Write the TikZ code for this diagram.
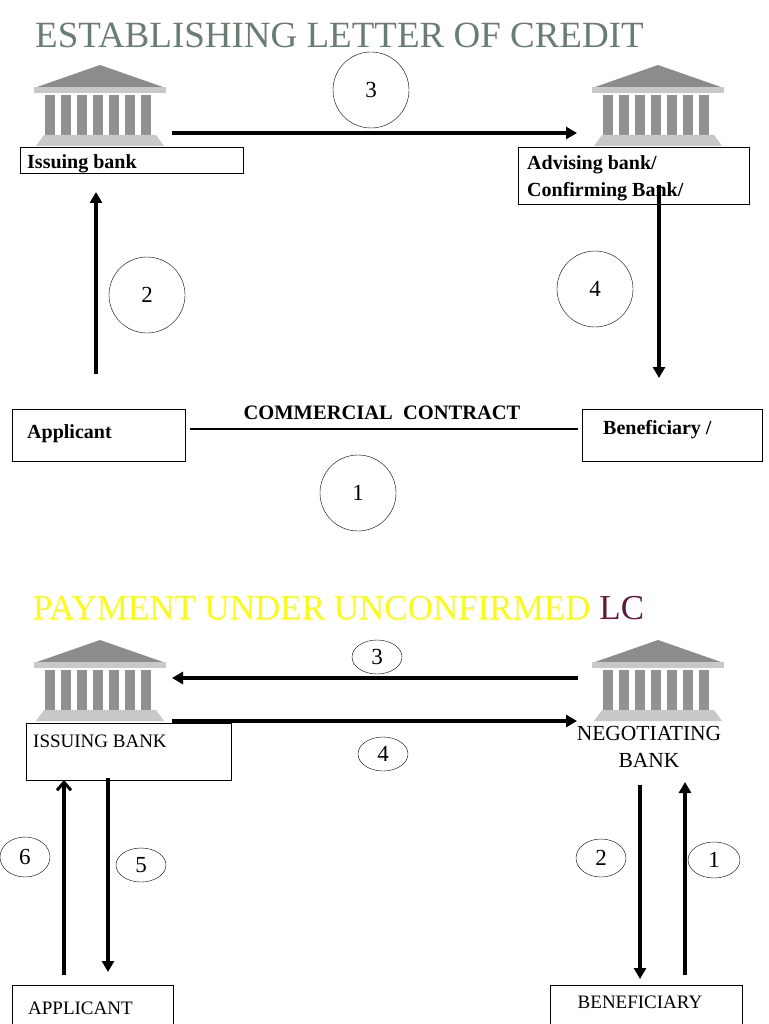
\documentclass[tikz,border=0pt]{standalone}
\usepackage{fontspec}
\setmainfont{Liberation Serif}
\usetikzlibrary{arrows.meta,shapes.geometric}
\definecolor{titlegray}{RGB}{105,125,115}
\definecolor{ttlyellow}{RGB}{250,250,20}
\definecolor{maroon}{RGB}{95,25,60}
\definecolor{roofgray}{RGB}{140,140,140}
\definecolor{light}{RGB}{200,200,200}
\definecolor{colgray}{RGB}{145,145,145}
\tikzset{
  arr/.style={line width=4pt,-{Triangle[length=11pt,width=12pt]}},
  oarr/.style={line width=4pt,-{Straight Barb[length=8pt,width=14pt,line width=3pt]}},
  box/.style={draw,line width=0.8pt},
  num/.style={draw,circle,minimum size=76pt,inner sep=0pt,font=\fontsize{23}{25}\selectfont},
  enum/.style={draw,ellipse,minimum width=50pt,minimum height=34pt,inner sep=0pt,font=\fontsize{23}{25}\selectfont},
  lbl/.style={font=\bfseries\fontsize{20}{23}\selectfont,anchor=west,inner sep=0pt},
  ulbl/.style={font=\fontsize{19}{22}\selectfont,inner sep=0pt},
  bank/.pic={
    \fill[roofgray] (-63,-2) -- (0,-24) -- (63,-2) -- cycle;
    \fill[light] (-66,-2) rectangle (66,4);
    \fill[white] (-62,4) rectangle (62,46);
    \foreach \i in {0,...,6}{\fill[colgray] ({-55+\i*16},6) rectangle ({-45+\i*16},46);}
    \fill[light] (-56,46) -- (56,46) -- (64,57) -- (-64,57) -- cycle;
  }
}
\begin{document}
\begin{tikzpicture}[x=1pt,y=-1pt]
\useasboundingbox (0,0) rectangle (768,1024);
\node[anchor=west,inner sep=0pt,text=titlegray,font=\fontsize{37}{40}\selectfont] (t1) at (35,35) {ESTABLISHING LETTER OF CREDIT};
\pic at (100,89) {bank};
\pic at (658,89) {bank};
\node[box,minimum width=223pt,minimum height=26pt,anchor=north west] (ib) at (20,147) {};
\node[lbl] (ibt) at (27,164) {Issuing bank};
\node[box,minimum width=231pt,minimum height=57pt,anchor=north west] (ab) at (518,147) {};
\node[lbl] (abt1) at (527,165) {Advising bank/};
\node[lbl] (abt2) at (527,192) {Confirming Bank/};
\coordinate (a3s) at (172,133); \coordinate (a3e) at (577,133);
\draw[arr] (a3s) -- (a3e);
\node[num] (c3) at (371,90) {3};
\coordinate (a2s) at (96,374); \coordinate (a2e) at (96,192);
\draw[arr] (a2s) -- (a2e);
\node[num] (c2) at (147,295) {2};
\coordinate (a4s) at (659,185); \coordinate (a4e) at (659,378);
\draw[arr] (a4s) -- (a4e);
\node[num] (c4) at (595,289) {4};
\node[box,minimum width=173pt,minimum height=52pt,anchor=north west] (ap) at (12,409) {};
\node[lbl] (apt) at (27,434) {Applicant};
\node[box,minimum width=180pt,minimum height=52pt,anchor=north west] (be) at (582,409) {};
\node[lbl] (bet) at (603,430) {Beneficiary /};
\coordinate (cl1) at (190,429); \coordinate (cl2) at (578,429);
\draw[line width=2pt] (cl1) -- (cl2);
\node[font=\bfseries\fontsize{20.5}{23}\selectfont] (cc) at (382,413) {COMMERCIAL\ \ CONTRACT};
\node[num] (c1) at (358,493) {1};
% second part
\node[anchor=west,inner sep=0pt,font=\fontsize{35}{38}\selectfont] (t2) at (33,608) {\textcolor{ttlyellow}{PAYMENT UNDER UNCONFIRMED} \textcolor{maroon}{LC}};
\pic at (100,664) {bank};
\pic at (658,664) {bank};
\coordinate (b3s) at (578,678); \coordinate (b3e) at (172,678);
\draw[arr] (b3s) -- (b3e);
\node[enum] (e3) at (377,657) {3};
\coordinate (b4s) at (172,721); \coordinate (b4e) at (577,721);
\draw[arr] (b4s) -- (b4e);
\node[enum] (e4) at (383,754) {4};
\node[box,minimum width=205pt,minimum height=57pt,anchor=north west] (ib2) at (26,723) {};
\node[ulbl,anchor=west] (ib2t) at (33,741) {ISSUING BANK};
\node[ulbl,align=center,font=\fontsize{21.5}{27}\selectfont] (nb) at (649,747) {NEGOTIATING\\BANK};
\coordinate (b6s) at (64,975); \coordinate (b6e) at (64,780);
\draw[oarr] (b6s) -- (b6e);
\coordinate (b5s) at (108,778); \coordinate (b5e) at (108,972);
\draw[arr] (b5s) -- (b5e);
\node[enum,minimum height=40pt] (e6) at (25,857) {6};
\node[enum] (e5) at (141,865) {5};
\node[box,minimum width=161pt,minimum height=50pt,anchor=north west] (ap2) at (12,985) {};
\node[ulbl,anchor=west] (ap2t) at (28,1008) {APPLICANT};
\coordinate (b2s) at (640,785); \coordinate (b2e) at (640,979);
\draw[arr] (b2s) -- (b2e);
\coordinate (b1s) at (685,975); \coordinate (b1e) at (685,782);
\draw[arr] (b1s) -- (b1e);
\node[enum,minimum height=38pt] (e2) at (601,858) {2};
\node[enum,minimum width=52pt,minimum height=36pt] (e1) at (714,860) {1};
\node[box,minimum width=192pt,minimum height=50pt,anchor=north west] (be2) at (550,985) {};
\node[ulbl] (be2t) at (640,1002) {BENEFICIARY};
\end{tikzpicture}
\end{document}
